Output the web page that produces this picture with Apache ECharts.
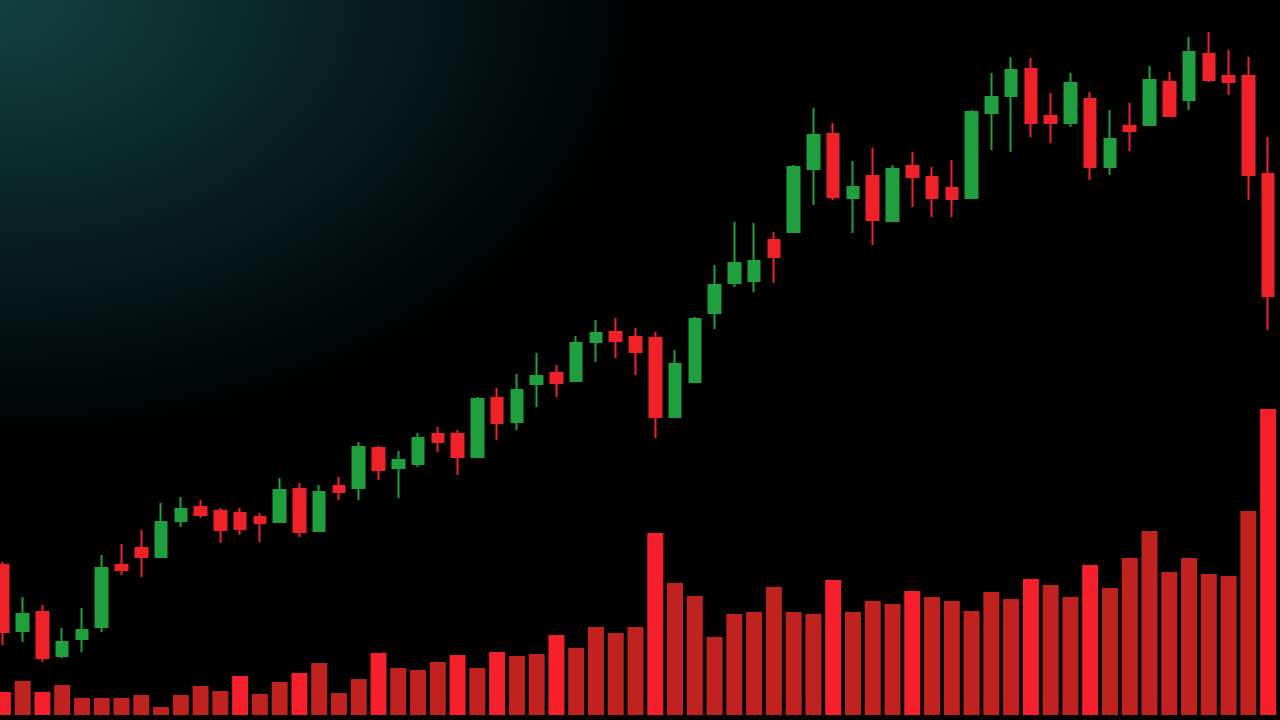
<!DOCTYPE html>
<html>
<head>
<meta charset="utf-8">
<script src="https://cdn.jsdelivr.net/npm/echarts@6/dist/echarts.min.js"></script>
<style>
html,body{margin:0;padding:0;width:1280px;height:720px;overflow:hidden;
background: radial-gradient(ellipse 820px 560px at 0% 0%, #134040 0%, #0b2a2a 30%, #041212 58%, #000 80%);}
#chart{position:absolute;left:-7px;top:0;width:1287px;height:720px;}
</style>
</head>
<body>
<div id="chart"></div>
<script>
// candle index labels
const categories = Array.from({length: 65}, (_, i) => 'D' + (i + 1));
// OHLC
const opens  = [35.5,28.9,30.8,26.4,28.1,29.3,35.5,37.2,36.3,39.9,41.3,40.9,40.7,40.3,39.8,43.1,38.9,43.4,43.2,47.2,45.2,45.6,48.6,48.6,46.3,52.2,49.8,53.6,54.7,53.9,57.8,58.8,58.3,58.2,50.3,53.8,60.7,63.7,63.9,68.0,68.8,75.1,78.6,72.2,74.4,69.9,75.4,74.3,73.2,72.2,80.7,82.4,85.1,80.4,79.7,82.1,75.3,79.4,79.5,83.8,82.0,86.6,84.4,84.4,74.6];
const closes = [28.8,30.6,26.2,27.8,29.0,35.2,35.0,36.3,39.8,41.1,40.5,39.0,39.1,39.7,43.0,38.8,42.8,42.8,47.3,45.0,46.0,48.2,47.8,46.3,52.1,49.7,53.0,54.4,53.7,57.7,58.7,57.9,56.8,50.3,55.6,60.1,63.5,65.7,65.9,66.3,75.3,78.5,72.3,73.3,70.0,75.1,74.3,72.2,72.1,80.8,82.3,85.0,79.7,79.7,83.7,75.3,78.1,78.9,84.0,80.4,86.8,84.0,83.8,74.5,62.4];
const lows   = [27.5,27.8,25.8,26.2,26.8,28.8,34.5,34.3,36.2,39.3,40.2,37.7,38.5,37.8,39.7,38.3,38.8,42.0,42.0,44.0,42.2,45.3,46.8,44.5,46.2,48.0,49.0,51.3,52.3,53.8,55.8,56.2,54.5,48.2,50.3,53.8,59.1,63.3,62.8,63.7,68.8,71.5,72.0,68.7,67.5,69.9,71.3,70.3,70.3,72.2,77.0,76.8,78.3,77.7,79.3,74.0,74.5,76.9,79.5,80.4,81.0,83.8,82.5,72.0,59.0];
const highs  = [35.8,32.3,31.5,29.2,31.2,36.5,37.6,39.0,41.7,42.3,42.0,41.2,41.2,40.7,44.2,43.7,43.5,44.3,47.8,47.4,46.9,48.7,49.3,49.0,52.3,53.2,54.6,56.7,55.5,58.4,60.0,60.2,59.2,58.8,57.0,60.3,65.5,69.8,69.7,68.8,75.5,81.2,79.7,75.9,77.2,75.5,76.8,75.3,76.0,81.0,84.7,86.3,86.2,82.7,84.7,82.8,81.0,81.7,85.4,84.8,88.3,88.8,87.0,86.3,78.3];
// volume per candle
const volumes = [230,340,230,300,170,170,170,200,80,200,290,240,390,210,330,420,520,220,360,620,470,450,530,600,470,630,590,610,800,670,880,820,880,1820,1320,1190,780,1010,1030,1280,1030,1010,1350,1030,1140,1110,1240,1180,1140,1040,1230,1160,1360,1300,1180,1500,1270,1570,1840,1430,1570,1410,1390,2040,3060];
// 1 = bright volume bar, 0 = darker volume bar
const volumeTone = [1,0,1,0,0,0,0,0,0,0,0,0,1,0,0,1,0,0,0,1,0,0,0,1,0,1,0,0,1,0,0,0,0,1,0,0,0,0,0,0,0,0,1,0,0,0,1,0,0,0,0,0,1,0,0,1,0,0,0,0,0,0,0,0,1];

const ohlc = opens.map((o, i) => [o, closes[i], lows[i], highs[i]]);
const volData = volumes.map((v, i) => ({
  value: v,
  itemStyle: { color: volumeTone[i] ? '#f61f2c' : '#c02220' }
}));

const chart = echarts.init(document.getElementById('chart'), null, {renderer: 'canvas'});
chart.setOption({
  animation: false,
  backgroundColor: 'transparent',
  grid: [
    { left: 0, right: 2, top: 0, bottom: 0 },
    { left: 0, right: 2, top: 15, bottom: 5 }
  ],
  xAxis: [
    { type: 'category', data: categories, gridIndex: 0, boundaryGap: true, show: false },
    { type: 'category', data: categories, gridIndex: 1, boundaryGap: true, show: false }
  ],
  yAxis: [
    { type: 'value', gridIndex: 0, min: 20, max: 92, show: false, splitLine: {show: false} },
    { type: 'value', gridIndex: 1, min: 0, max: 7000, show: false, splitLine: {show: false} }
  ],
  series: [
    {
      type: 'bar', xAxisIndex: 1, yAxisIndex: 1,
      data: volData, barWidth: 16, z: 1
    },
    {
      type: 'candlestick', xAxisIndex: 0, yAxisIndex: 0,
      data: ohlc, barWidth: 12, z: 2,
      itemStyle: {
        color: '#1f9f3d', color0: '#ef2129',
        borderColor: '#1f9f3d', borderColor0: '#ef2129',
        borderWidth: 2
      }
    }
  ]
});
</script>
</body>
</html>
